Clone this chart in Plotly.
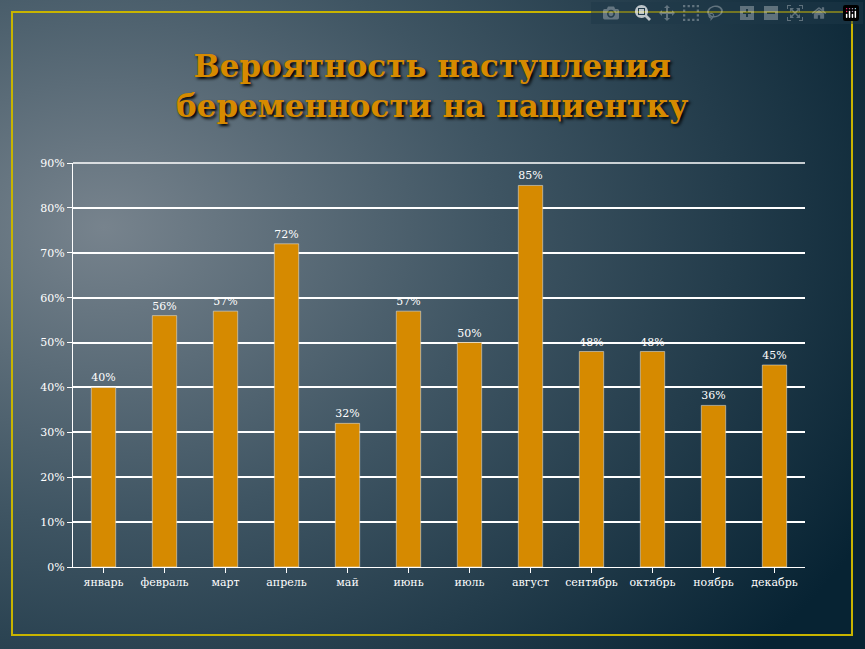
import plotly.graph_objects as go
import base64

months = ["январь","февраль","март","апрель","май","июнь","июль","август","сентябрь","октябрь","ноябрь","декабрь"]
values = [40,56,57,72,32,57,50,85,48,48,36,45]
labels = [f"{v}%" for v in values]
yticks = [0,10,20,30,40,50,60,70,80,90]

svg = ('<svg xmlns="http://www.w3.org/2000/svg" width="865" height="649">'
       '<defs><radialGradient id="g" cx="0.12" cy="0.35" r="1.0">'
       '<stop offset="0" stop-color="#77838d"/><stop offset="0.45" stop-color="#3f5563"/>'
       '<stop offset="1" stop-color="#072333"/></radialGradient></defs>'
       '<rect width="865" height="649" fill="url(#g)"/></svg>')
uri = "data:image/svg+xml;base64," + base64.b64encode(svg.encode()).decode()

fig = go.Figure(go.Bar(x=months, y=values, text=labels, textposition="outside",
                       marker_color="#d68a00", width=0.4,
                       textfont=dict(color="white", size=11, family="DejaVu Serif"),
                       cliponaxis=False))
fig.update_layout(
    width=865, height=649, margin=dict(l=73, r=60, t=163, b=82),
    paper_bgcolor="#1e3847", plot_bgcolor="rgba(0,0,0,0)",
    images=[dict(source=uri, xref="paper", yref="paper", x=-73/732, y=1+163/404,
                 sizex=865/732, sizey=649/404, sizing="stretch", layer="below",
                 xanchor="left", yanchor="top")],
    shapes=[dict(type="rect", xref="paper", yref="paper", x0=-61/732, x1=1+47/732,
                 y0=-68/404, y1=1+151/404, line=dict(color="#c8b400", width=2)),
            dict(type="line", xref="paper", yref="paper", x0=0, x1=1, y0=1, y1=1,
                 line=dict(color="white", width=1.5))],
    annotations=[dict(text="<b>Вероятность наступления<br>беременности на пациентку</b>",
                      xref="paper", yref="paper", x=(432-73)/732, y=1+(163-86)/404,
                      showarrow=False, yanchor="middle",
                      font=dict(family="DejaVu Serif", size=31, color="#d68a00",
                                shadow="2px 2px 3px #000"))],
    xaxis=dict(tickfont=dict(color="white", size=11, family="DejaVu Serif"),
               showline=True, linecolor="white", ticks="outside", tickcolor="white"),
    yaxis=dict(range=[0,90], tickvals=yticks, ticktext=[f"{t}%" for t in yticks],
               tickfont=dict(color="white", size=11, family="DejaVu Serif"),
               gridcolor="white", gridwidth=1.5, showline=True, linecolor="white",
               ticks="outside", tickcolor="white", zeroline=False),
    showlegend=False,
)
fig.write_html("out.html", post_script="document.body.style.margin='0';")
